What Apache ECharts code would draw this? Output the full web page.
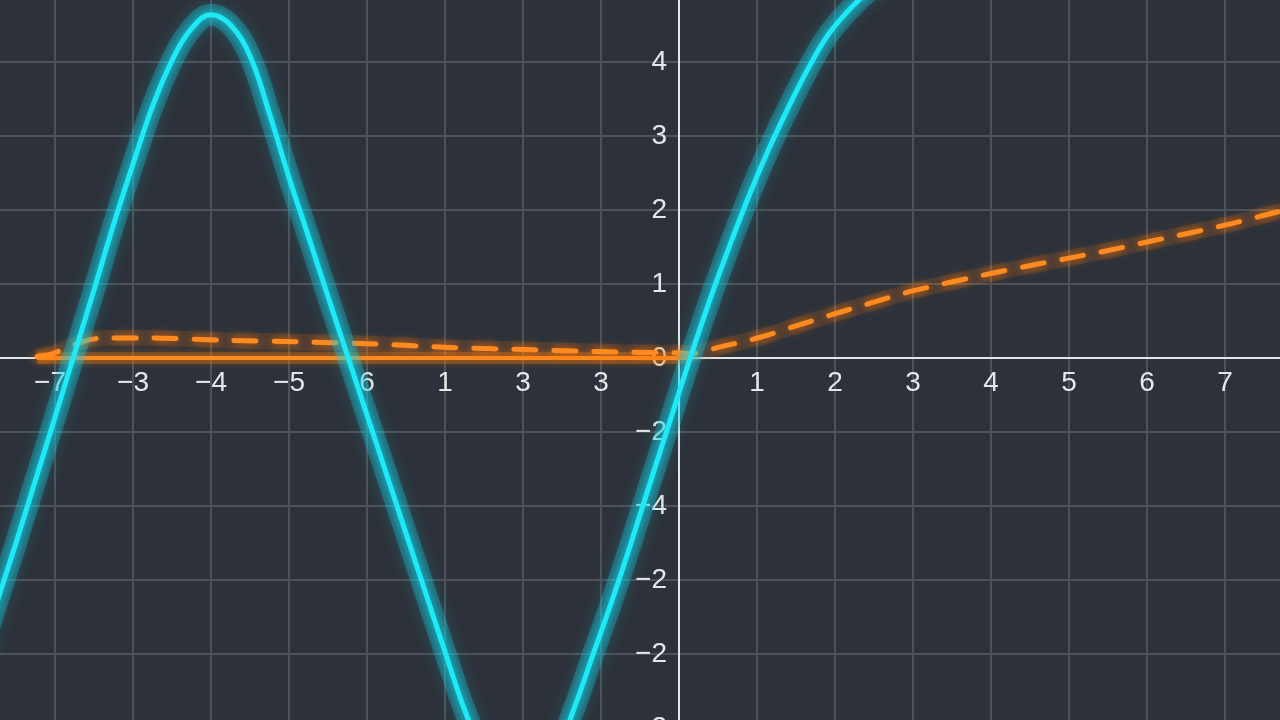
<!DOCTYPE html>
<html>
<head>
<meta charset="utf-8">
<script src="https://cdn.jsdelivr.net/npm/echarts@6/dist/echarts.min.js"></script>
<style>
html,body{margin:0;padding:0;background:#2d323a;}
#chart{width:1280px;height:720px;}
</style>
</head>
<body>
<div id="chart"></div>
<script>
// Tick labels as printed in the picture (keyed by axis value)
const xTickValues = [-8, -7, -6, -5, -4, -3, -2, -1, 1, 2, 3, 4, 5, 6, 7];
const xTickLabels = ['−7', '−3', '−4', '−5', '6', '1', '3', '3', '1', '2', '3', '4', '5', '6', '7'];
const yTickValues = [4, 3, 2, 1, 0, -1, -2, -3, -4, -5];
const yTickLabels = ['4', '3', '2', '1', '0', '−2', '−4', '−2', '−2', '−2'];

// Cyan wave
const waveX = [-9.0, -8.75, -8.5, -8.25, -8.0, -7.75, -7.5, -7.25, -7.0, -6.75, -6.5, -6.25, -6.0, -5.75, -5.5, -5.25, -5.0, -4.75, -4.5, -4.25, -4.0, -3.75, -3.5, -3.25, -3.0, -2.75, -2.5, -2.25, -2.05, -1.85, -1.6, -1.35, -1.1, -0.85, -0.6, -0.35, -0.1, 0.15, 0.4, 0.65, 0.9, 1.15, 1.4, 1.65, 1.9, 2.15, 2.4, 2.65];
const waveY = [-4.15, -3.32, -2.5, -1.65, -0.8, 0.06, 0.92, 1.8, 2.62, 3.4, 4.02, 4.45, 4.64, 4.5, 4.08, 3.3, 2.44, 1.64, 0.83, 0.03, -0.77, -1.57, -2.37, -3.17, -3.97, -4.75, -5.35, -5.65, -5.72, -5.65, -5.4, -4.75, -4.0, -3.25, -2.45, -1.62, -0.8, 0.02, 0.8, 1.52, 2.2, 2.82, 3.38, 3.9, 4.35, 4.67, 4.93, 5.13];

// Orange dashed curve
const dashX = [-8.23, -8.06, -7.62, -7.36, -6.78, -5.85, -4.90, -3.90, -2.90, -1.87, -0.82, 0.0, 0.15, 0.53, 1.04, 1.46, 1.94, 2.42, 2.90, 3.38, 3.90, 4.41, 4.95, 5.49, 6.01, 6.55, 7.10, 7.62, 8.0];
const dashY = [0.02, 0.05, 0.23, 0.27, 0.27, 0.24, 0.22, 0.19, 0.14, 0.11, 0.08, 0.07, 0.06, 0.15, 0.28, 0.42, 0.58, 0.73, 0.88, 1.0, 1.12, 1.23, 1.34, 1.45, 1.57, 1.69, 1.82, 1.96, 2.05];

// Orange solid line along zero
const flatX = [-8.23, 0.12];
const flatY = [0.0, 0.0];

function pairs(xs, ys) { return xs.map((x, i) => [x, ys[i]]); }
function lookup(vals, labels, v) {
  const i = vals.findIndex(t => Math.abs(t - v) < 1e-6);
  return i >= 0 ? labels[i] : '';
}

const chart = echarts.init(document.getElementById('chart'), null, {renderer: 'canvas'});
const wave = pairs(waveX, waveY);
const dash = pairs(dashX, dashY);
const flat = pairs(flatX, flatY);
const orange = '#ff8a1f';
const cyan = '#1fe8f7';
const labelFont = 'Liberation Sans, Arial, sans-serif';

// grid geometry: x -9..8 over 1326px (78px/unit), y -5..5 over 740px (74px/unit)
const GL = -23, GT = -12, GW = 1326, GH = 740;
const X_MIN = -9, X_MAX = 8, Y_MIN = -5, Y_MAX = 5;
const xOffset = -(GH * (0 - Y_MIN) / (Y_MAX - Y_MIN)); // move bottom axis up to y=0
const yOffset = -(GW * (0 - X_MIN) / (X_MAX - X_MIN)); // move left axis right to x=0

chart.setOption({
  backgroundColor: '#2d323a',
  animation: false,
  grid: {left: GL, top: GT, width: GW, height: GH, containLabel: false, outerBoundsMode: 'none'},
  xAxis: {
    type: 'value', min: X_MIN, max: X_MAX, interval: 1, position: 'bottom', offset: xOffset,
    axisLine: {show: true, onZero: false, lineStyle: {color: '#e4e6e8', width: 2}},
    axisTick: {show: false},
    splitLine: {show: true, lineStyle: {color: '#4d525a', width: 2}},
    axisLabel: {
      margin: 11, color: '#e6e6e6', fontSize: 28, fontFamily: labelFont,
      formatter: v => {
        const s = lookup(xTickValues, xTickLabels, v);
        return v === X_MIN + 1 && s ? '{edge|' + s + '}' : s;
      },
      rich: {edge: {color: '#e6e6e6', fontSize: 28, fontFamily: labelFont, padding: [0, 10, 0, 0]}}
    }
  },
  yAxis: {
    type: 'value', min: Y_MIN, max: Y_MAX, interval: 1, position: 'left', offset: yOffset,
    axisLine: {show: true, onZero: false, lineStyle: {color: '#e4e6e8', width: 2}},
    axisTick: {show: false},
    splitLine: {show: true, lineStyle: {color: '#4d525a', width: 2}},
    axisLabel: {
      margin: 12, color: '#e6e6e6', fontSize: 28, fontFamily: labelFont,
      showMinLabel: true, showMaxLabel: true,
      formatter: v => lookup(yTickValues, yTickLabels, v)
    }
  },
  series: [
    {type: 'line', data: flat, showSymbol: false, z: 3, silent: true,
     lineStyle: {color: 'rgba(255,130,20,0.25)', width: 12}},
    {type: 'line', data: flat, showSymbol: false, z: 4, silent: true,
     lineStyle: {color: orange, width: 4, shadowBlur: 10, shadowColor: 'rgba(255,120,0,0.9)'}},
    {type: 'line', data: dash, showSymbol: false, smooth: 0.3, z: 4, silent: true,
     lineStyle: {color: 'rgba(255,120,20,0.14)', width: 16}},
    {type: 'line', data: dash, showSymbol: false, smooth: 0.3, z: 5, silent: true,
     lineStyle: {color: orange, width: 5, type: [22, 18], cap: 'round', shadowBlur: 10, shadowColor: 'rgba(255,120,0,0.9)'}},
    {type: 'line', data: wave, showSymbol: false, smooth: 0.4, z: 6, silent: true,
     lineStyle: {color: 'rgba(30,200,220,0.30)', width: 22, shadowBlur: 14, shadowColor: 'rgba(20,210,230,0.6)'}},
    {type: 'line', data: wave, showSymbol: false, smooth: 0.4, z: 7, silent: true,
     lineStyle: {color: cyan, width: 5, shadowBlur: 10, shadowColor: 'rgba(0,235,255,0.9)'}}
  ]
});
</script>
</body>
</html>
